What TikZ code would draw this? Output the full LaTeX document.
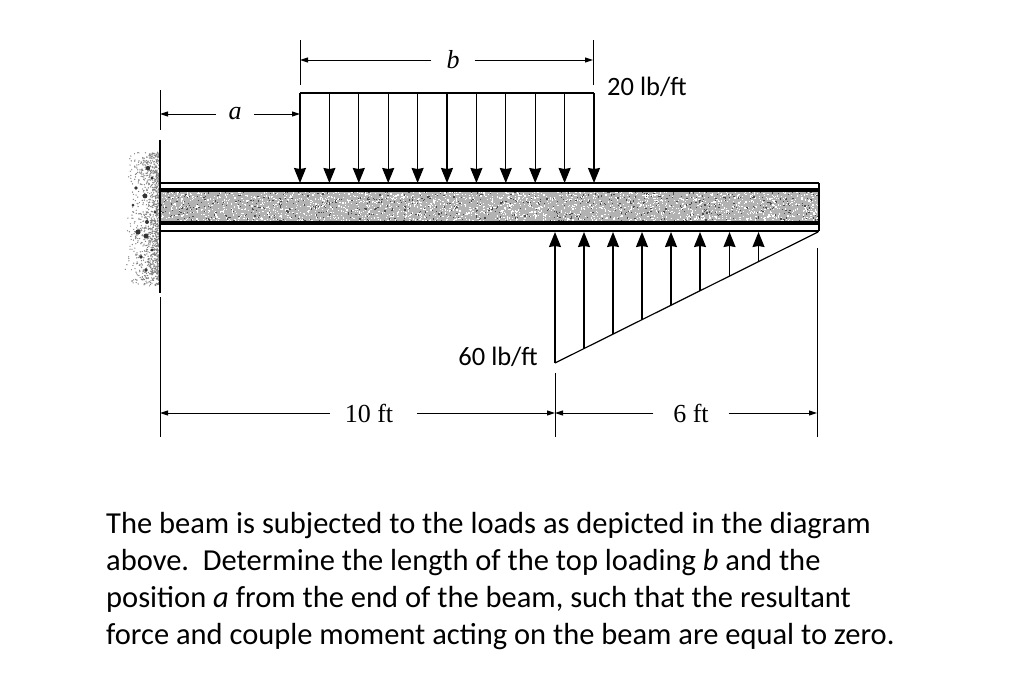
\documentclass[tikz,border=0pt]{standalone}
\usepackage{fontspec}
\setmainfont{Carlito}
\newfontfamily\dimfont{Liberation Serif}
\usetikzlibrary{arrows.meta}
\usetikzlibrary{positioning}
\tikzstyle{beamline} = [line width=1.4pt, black]
\tikzstyle{heavyline} = [line width=3.2pt, black]
\tikzstyle{load} = [line width=1.3pt, -{Stealth[length=15pt,width=12pt,inset=1pt]}]
\tikzstyle{outline} = [line width=1.2pt]
\tikzstyle{ext} = [line width=0.9pt]
\tikzstyle{dim} = [line width=1pt, -{Stealth[length=8pt,width=5pt,inset=0pt]}]
\tikzstyle{dimlabel} = [font={\fontsize{26}{28}\selectfont\dimfont}, inner sep=0pt, minimum height=20pt]
\tikzstyle{loadlabel} = [font={\fontsize{26.5}{28}\selectfont}, inner sep=0pt]
\begin{document}
\begin{tikzpicture}[x=1pt, y=-1pt]
    \useasboundingbox (0,0) rectangle (1024,691);

    % wall
    \pgfmathsetseed{41}
    \foreach \i in {1,...,1100} {
        \pgfmathsetmacro{\px}{160-33*rnd*rnd-2*rnd}
        \pgfmathsetmacro{\py}{152+134*rnd}
        \fill [black!50] (\px,\py) circle (0.7pt);
    }
    \foreach \px/\py/\r in {148/168/2.2, 136/188/1.8, 145/196/2.4, 152/178/1.6, 133/205/1.5,
            147/222/2, 138/232/2.6, 146/236/2.4, 152/250/1.7, 141/257/1.8, 146/270/1.8, 155/212/1.5} {
        \fill [black!80] (\px,\py) circle (\r pt);
    }

    % beam core
    \fill [black!30] (160,190) rectangle (819,223);
    \foreach \i in {1,...,3000} {
        \pgfmathsetmacro{\px}{160+658*rnd}
        \pgfmathsetmacro{\py}{191+31*rnd}
        \pgfmathsetmacro{\sh}{rnd>0.72 ? 70 : 0}
        \fill [black!\sh] (\px,\py) rectangle +(1.2,1.2);
    }

    % beam outline
    \coordinate (topL) at (160,183);
    \coordinate (topR) at (819,183);
    \coordinate (upL) at (160,190);
    \coordinate (upR) at (819,190);
    \coordinate (lowL) at (160,223);
    \coordinate (lowR) at (819,223);
    \coordinate (botL) at (160,231);
    \coordinate (botR) at (819,231);
    \draw [beamline] (topL) -- (topR);
    \draw [heavyline] (upL) -- (upR);
    \draw [heavyline] (lowL) -- (lowR);
    \draw [beamline] (botL) -- (botR);
    \draw [beamline] (topR) -- (botR);
    \coordinate (wallT) at (160,140);
    \coordinate (wallB) at (160,293);
    \draw [beamline] (wallT) -- (wallB);

    % load on top
    \coordinate (topLoadL) at (300,93);
    \coordinate (topLoadR) at (594,93);
    \draw [outline] (topLoadL) -- (topLoadR);
    \foreach \i/\x in {0/300,1/329.4,2/358.8,3/388.2,4/417.6,5/447,6/476.4,7/505.8,8/535.2,9/564.6,10/594} {
        \coordinate (downS\i) at (\x,93);
        \coordinate (downE\i) at (\x,183);
        \draw [load] (downS\i) -- (downE\i);
    }
    \node [loadlabel, anchor=west] (w20) at (607,87) {20 lb/ft};

    % load underneath
    \coordinate (triA) at (555,363);
    \coordinate (triB) at (818,232);
    \draw [outline] (triA) -- (triB);
    \foreach \i/\x in {0/555,1/584,2/613,3/642,4/671,5/700,6/729.5,7/758.5} {
        \pgfmathsetmacro{\y}{363-(\x-555)*0.498}
        \coordinate (upS\i) at (\x,\y);
        \coordinate (upE\i) at (\x,232);
        \draw [load] (upS\i) -- (upE\i);
    }
    \node [loadlabel, anchor=east] (w60) at (538,357) {60 lb/ft};

    % extension lines
    \coordinate (extA1) at (160,90);
    \coordinate (extA2) at (160,130);
    \coordinate (extB1) at (300,40);
    \coordinate (extB2) at (300,85);
    \coordinate (extC1) at (593,40);
    \coordinate (extC2) at (593,85);
    \coordinate (extD1) at (160,297);
    \coordinate (extD2) at (160,437);
    \coordinate (extE1) at (555,373);
    \coordinate (extE2) at (555,437);
    \coordinate (extF1) at (817,248);
    \coordinate (extF2) at (817,437);
    \foreach \p in {A,B,C,D,E,F} {
        \draw [ext] (ext\p1) -- (ext\p2);
    }

    % dimensions
    \node [dimlabel, minimum width=38pt, font={\fontsize{26}{28}\selectfont\dimfont\itshape}] (a) at (235,114) {\raisebox{-3pt}{a}};
    \coordinate (aL) at (160,114);
    \coordinate (aR) at (300,114);
    \draw [dim] (a) -- (aL);
    \draw [dim] (a) -- (aR);

    \node [dimlabel, minimum width=43pt, font={\fontsize{26}{28}\selectfont\dimfont\itshape}] (b) at (453,60) {\raisebox{-1pt}{b}};
    \coordinate (bL) at (300,60);
    \coordinate (bR) at (593,60);
    \draw [dim] (b) -- (bL);
    \draw [dim] (b) -- (bR);

    \node [dimlabel, minimum width=78pt] (ten) at (369,413) {10 ft};
    \coordinate (tenL) at (160,413);
    \coordinate (tenR) at (555,413);
    \draw [dim] (ten) -- (tenL);
    \draw [dim] ([xshift=9pt]ten.east) -- (tenR);

    \node [dimlabel, minimum width=75pt] (six) at (691,413) {6 ft};
    \coordinate (sixL) at (555,413);
    \coordinate (sixR) at (817,413);
    \draw [dim] (six) -- (sixL);
    \draw [dim] (six) -- (sixR);

    % problem text
    \node [anchor=north west, inner sep=0pt, align=left, font={\fontsize{30.5}{37.2}\selectfont}] (task) at (106,512)
        {The beam is subjected to the loads as depicted in the diagram\\
         above.\ \ Determine the length of the top loading \textit{b} and the\\
         position \textit{a} from the end of the beam, such that the resultant\\
         force and couple moment acting on the beam are equal to zero.};
\end{tikzpicture}
\end{document}
